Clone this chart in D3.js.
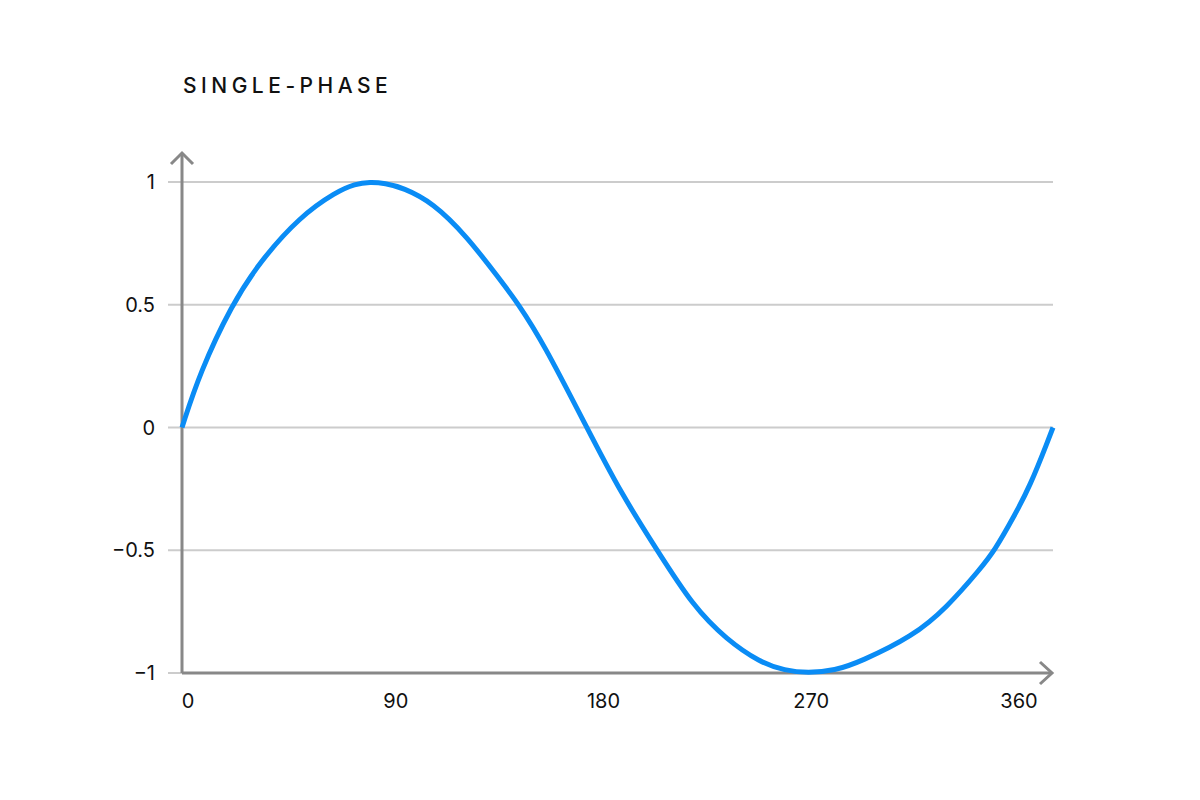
<!DOCTYPE html>
<html lang="en">
    <head>
        <meta charset="utf-8">
        <title>Single-phase</title>
        <script type="text/javascript" src="https://d3js.org/d3.v7.min.js"></script>
        <style type="text/css">
            body { margin: 0; background: #fff; }
            text { font-family: Inter, "Open Sans", sans-serif; }
        </style>
    </head>
    <body>
        <script type="text/javascript">

        //Data (angle in degrees, value)
        const angles = [0, 7.4, 20.5, 32.2, 48.8, 63.9, 71.5, 77.7, 83.9, 91.3, 103.7, 117.7, 131.4, 138.9, 149.3, 167.3, 181.5, 196.2, 211.2, 225.1, 238.9, 249.2, 258.7, 269.9, 280.2, 302.2, 316.1, 329.8, 336, 343.6, 350.5, 358.1, 360];
        const values = [0, 0.224, 0.499, 0.676, 0.86, 0.961, 0.992, 1, 0.995, 0.977, 0.916, 0.779, 0.603, 0.505, 0.345, 0, -0.269, -0.497, -0.728, -0.864, -0.957, -0.99, -1, -0.99, -0.955, -0.85, -0.733, -0.578, -0.499, -0.367, -0.239, -0.049, 0];
        const yTicks = [1, 0.5, 0, -0.5, -1];
        const xLabels = ["0", "90", "180", "270", "360"];
        const title = "SINGLE-PHASE";

        //Layout
        const width = 1200;
        const height = 800;
        const plotLeft = 182, plotRight = 1053, plotTop = 182, plotBottom = 673;

        const data = angles.map((a, i) => ({a: a, v: values[i]}));

        //Scales
        const xScale = d3.scaleLinear().domain([0, 360]).range([plotLeft, plotRight]);
        const yScale = d3.scaleLinear().domain([-1, 1]).range([plotBottom, plotTop]);
        const labelScale = d3.scalePoint().domain(xLabels).range([188, 1019]);

        const svg = d3.select("body")
                    .append("svg")
                    .attr("width", width)
                    .attr("height", height);

        //Gridlines
        svg.append("g")
            .selectAll("line")
            .data(yTicks)
            .enter()
            .append("line")
            .attr("x1", plotLeft - 14)
            .attr("x2", plotRight)
            .attr("y1", d => yScale(d))
            .attr("y2", d => yScale(d))
            .attr("stroke", "#cccccc")
            .attr("stroke-width", 2);

        //Y labels
        svg.append("g")
            .selectAll("text")
            .data(yTicks)
            .enter()
            .append("text")
            .attr("x", plotLeft - 27)
            .attr("y", d => yScale(d))
            .attr("dy", "0.35em")
            .attr("text-anchor", "end")
            .attr("font-size", "20px")
            .attr("fill", "#111")
            .text(d => d === 0 ? "0" : (d < 0 ? "\u2212" + Math.abs(d) : d));

        //X labels
        svg.append("g")
            .selectAll("text")
            .data(xLabels)
            .enter()
            .append("text")
            .attr("x", d => labelScale(d))
            .attr("y", plotBottom + 35)
            .attr("text-anchor", "middle")
            .attr("font-size", "20px")
            .attr("fill", "#111")
            .text(d => d);

        //Axes with arrows
        const axisColor = "#888888";
        const ax = svg.append("g")
            .attr("stroke", axisColor)
            .attr("stroke-width", 3)
            .attr("fill", "none");

        ax.append("line")
            .attr("x1", plotLeft).attr("x2", plotLeft)
            .attr("y1", plotBottom).attr("y2", plotTop - 29);
        ax.append("path")
            .attr("d", `M${plotLeft - 11},${plotTop - 18}L${plotLeft},${plotTop - 29}L${plotLeft + 11},${plotTop - 18}`);

        ax.append("line")
            .attr("x1", plotLeft).attr("x2", plotRight - 1)
            .attr("y1", plotBottom).attr("y2", plotBottom);
        ax.append("path")
            .attr("d", `M${plotRight - 13},${plotBottom - 11}L${plotRight - 1},${plotBottom}L${plotRight - 13},${plotBottom + 11}`);

        //Curve - basis spline to smooth out reading noise
        const line = d3.line()
            .x(d => xScale(d.a))
            .y(d => yScale(d.v))
            .curve(d3.curveBasis);

        svg.append("path")
            .datum(data)
            .attr("d", line)
            .attr("fill", "none")
            .attr("stroke", "#0a8cf5")
            .attr("stroke-width", 5)
            .attr("stroke-linecap", "butt");

        //Title
        svg.append("text")
            .attr("x", 183)
            .attr("y", 93)
            .attr("font-size", "21px")
            .attr("font-weight", 500)
            .attr("letter-spacing", "4.5px")
            .attr("fill", "#111")
            .text(title);

        </script>
    </body>
</html>
